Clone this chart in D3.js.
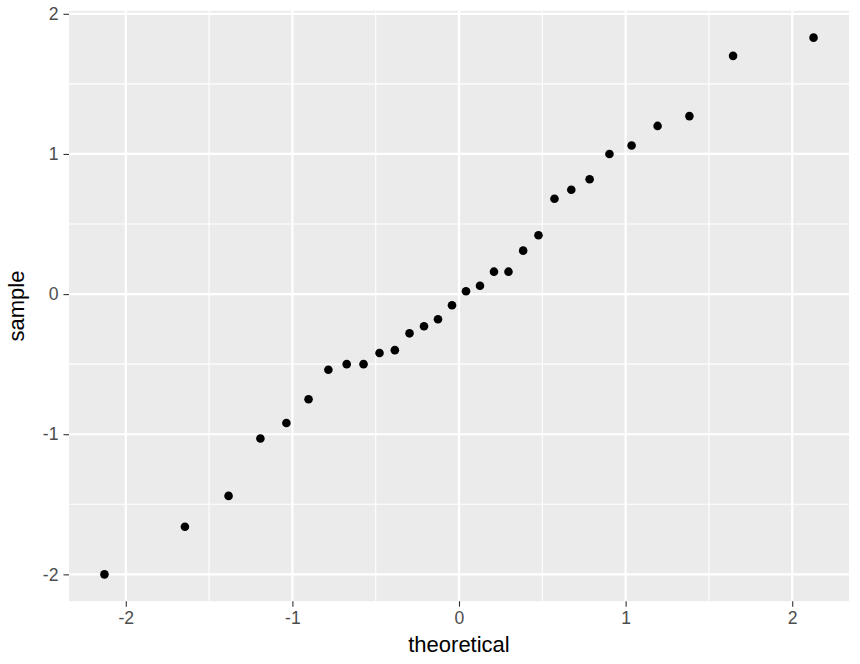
<!DOCTYPE html>
<html>
<head>
<meta charset="utf-8">
<script src="https://cdn.jsdelivr.net/npm/d3@7"></script>
<style>
  body { margin: 0; background: #fff; }
  text { font-family: 'Liberation Sans', Arial, Helvetica, sans-serif; }
</style>
</head>
<body>
<div id="chart"></div>
<script>
// theoretical normal quantiles (n = 30)
var theoretical = [-2.128, -1.645, -1.383, -1.192, -1.036, -0.903, -0.784, -0.674, -0.573, -0.477,
    -0.385, -0.297, -0.210, -0.126, -0.042, 0.042, 0.126, 0.210, 0.297, 0.385,
    0.477, 0.573, 0.674, 0.784, 0.903, 1.036, 1.192, 1.383, 1.645, 2.128]

// sorted sample values
var sample = [-2.00, -1.66, -1.44, -1.03, -0.92, -0.75, -0.54, -0.50, -0.50, -0.42,
    -0.40, -0.28, -0.23, -0.18, -0.08, 0.02, 0.06, 0.16, 0.16, 0.31,
    0.42, 0.68, 0.745, 0.82, 1.00, 1.06, 1.20, 1.27, 1.70, 1.83]

var xTicks = [-2, -1, 0, 1, 2],
    yTicks = [-2, -1, 0, 1, 2],
    xMinor = [-1.5, -0.5, 0.5, 1.5],
    yMinor = [-1.5, -0.5, 0.5, 1.5]

var W = 860,
    H = 664,
    pLeft = 69,
    pRight = 849,
    pTop = 10.8,
    pBottom = 601.2

var svg = d3.select('#chart')
    .append('svg')
    .attr('width', W)
    .attr('height', H)

// scales with ggplot style 5% expansion
var xmin = d3.min(theoretical), xmax = d3.max(theoretical),
    ymin = d3.min(sample), ymax = d3.max(sample)
var xpad = (xmax - xmin) * 0.05,
    ypad = (ymax - ymin) * 0.05

var xscale = d3.scaleLinear()
    .domain([xmin - xpad, xmax + xpad])
    .range([pLeft, pRight])

var yscale = d3.scaleLinear()
    .domain([ymin - ypad, ymax + ypad])
    .range([pBottom, pTop])

// panel
svg.append('rect')
    .attr('x', pLeft)
    .attr('y', pTop)
    .attr('width', pRight - pLeft)
    .attr('height', pBottom - pTop)
    .attr('fill', '#EBEBEB')

// grid
svg.selectAll('.xminor')
    .data(xMinor)
    .enter()
    .append('line')
    .attr('x1', d => xscale(d)).attr('x2', d => xscale(d))
    .attr('y1', pTop).attr('y2', pBottom)
    .attr('stroke', '#fff').attr('stroke-width', 1.1)

svg.selectAll('.yminor')
    .data(yMinor)
    .enter()
    .append('line')
    .attr('y1', d => yscale(d)).attr('y2', d => yscale(d))
    .attr('x1', pLeft).attr('x2', pRight)
    .attr('stroke', '#fff').attr('stroke-width', 1.1)

svg.selectAll('.xmajor')
    .data(xTicks)
    .enter()
    .append('line')
    .attr('x1', d => xscale(d)).attr('x2', d => xscale(d))
    .attr('y1', pTop).attr('y2', pBottom)
    .attr('stroke', '#fff').attr('stroke-width', 2.2)

svg.selectAll('.ymajor')
    .data(yTicks)
    .enter()
    .append('line')
    .attr('y1', d => yscale(d)).attr('y2', d => yscale(d))
    .attr('x1', pLeft).attr('x2', pRight)
    .attr('stroke', '#fff').attr('stroke-width', 2.2)

// axes
var xaxis = d3.axisBottom(xscale)
    .tickValues(xTicks)
    .tickSize(5.5)
    .tickPadding(5)
    .tickFormat(d => String(d))
var gx = svg.append('g')
    .attr('transform', `translate(0, ${pBottom})`)
    .call(xaxis)

var yaxis = d3.axisLeft(yscale)
    .tickValues(yTicks)
    .tickSize(5.5)
    .tickPadding(5)
    .tickFormat(d => String(d))
var gy = svg.append('g')
    .attr('transform', `translate(${pLeft}, 0)`)
    .call(yaxis)

;[gx, gy].forEach(function (g) {
    g.select('.domain').remove()
    g.selectAll('line').attr('stroke', '#333333').attr('stroke-width', 1.1)
    g.selectAll('text')
        .attr('fill', '#4D4D4D')
        .style('font-size', '17.6px')
        .style('font-family', "'Liberation Sans', Arial, sans-serif")
})
gx.selectAll('text').attr('dy', '0.71em')

// points
svg.selectAll('circle')
    .data(theoretical)
    .enter()
    .append('circle')
    .attr('cx', d => xscale(d))
    .attr('cy', (d, i) => yscale(sample[i]))
    .attr('r', 4.3)
    .attr('fill', 'black')

// titles
svg.append('text')
    .text('theoretical')
    .attr('text-anchor', 'middle')
    .attr('x', (pLeft + pRight) / 2)
    .attr('y', 651.5)
    .style('font-size', '22px')

svg.append('text')
    .text('sample')
    .attr('text-anchor', 'middle')
    .attr('transform', `translate(24, ${(pTop + pBottom) / 2}) rotate(-90)`)
    .style('font-size', '22px')
</script>
</body>
</html>
